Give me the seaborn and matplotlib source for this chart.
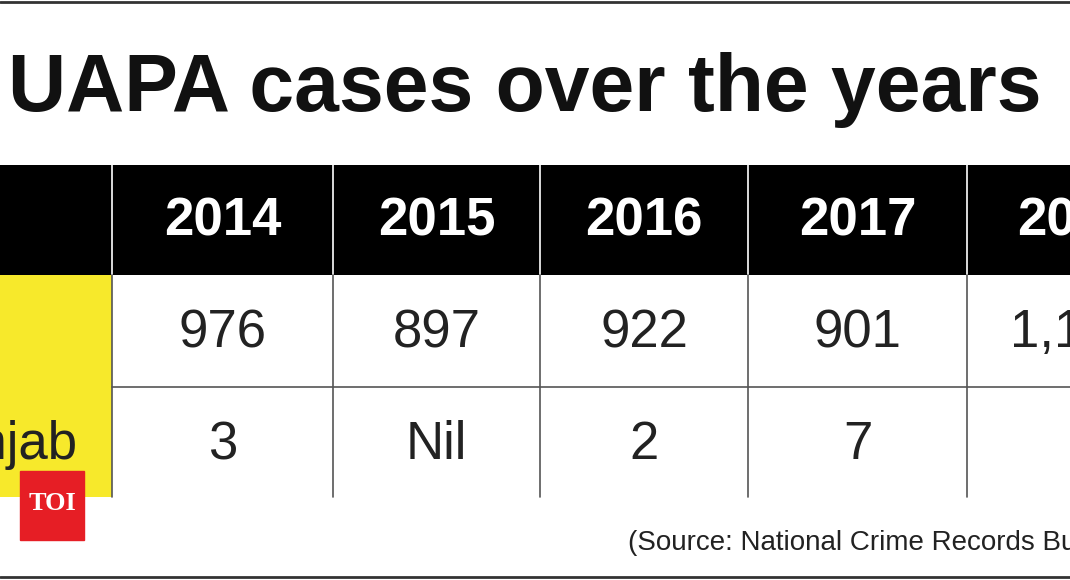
import matplotlib
matplotlib.use("Agg")
import matplotlib.pyplot as plt
import seaborn as sns
import numpy as np
from matplotlib.colors import ListedColormap

title = "UAPA cases over the years"
years = ["", "2014", "2015", "2016", "2017", "2018"]
row_labels = ["India", "Punjab"]
india = ["976", "897", "922", "901", "1,182"]
punjab = ["3", "Nil", "2", "7", ""]
source = "(Source: National Crime Records Bureau)"

sns.set_theme(style="white")
plt.rcParams['font.family'] = ['Liberation Sans', 'DejaVu Sans']

fig = plt.figure(figsize=(10.7, 5.8), dpi=100)
ax = fig.add_axes([0, 0, 1, 1])
ax.set_xlim(0, 1070); ax.set_ylim(580, 0); ax.axis("off")

xe = np.array([0, 112, 333, 540, 748, 967, 1185])
ye = np.array([165, 275, 387, 497])
codes = np.array([[0, 0, 0, 0, 0, 0], [1, 2, 2, 2, 2, 2], [1, 2, 2, 2, 2, 2]])
cmap = ListedColormap(["#000000", "#f7e92b", "#ffffff"])
ax.pcolormesh(xe, ye, codes, cmap=cmap, vmin=-0.5, vmax=2.5)

for x in xe[1:-1]:
    ax.plot([x, x], [165, 275], color="white", lw=1.2)
    ax.plot([x, x], [275, 497], color="#555555", lw=1.2)
ax.plot([112, 1070], [387, 387], color="#555555", lw=1.2)
ax.plot([0, 1070], [2, 2], color="#333333", lw=2)
ax.plot([0, 1070], [577, 577], color="#333333", lw=2)

ax.text(8, 90, title, fontsize=58, fontweight="bold", va="center", ha="left", color="#111111")
cx = (xe[:-1] + xe[1:]) / 2
for i, y in enumerate(years):
    ax.text(cx[i], 222, y, fontsize=38, fontweight="bold", color="white", ha="center", va="center", clip_on=True)
for i, v in enumerate(india):
    ax.text(cx[i + 1], 333, v, fontsize=38, color="#222222", ha="center", va="center", clip_on=True)
for i, v in enumerate(punjab):
    ax.text(cx[i + 1], 445, v, fontsize=38, color="#222222", ha="center", va="center", clip_on=True)
ax.text(-5, 333, row_labels[0], fontsize=38, color="#222222", ha="right", va="center", clip_on=True)
ax.text(78, 445, row_labels[1], fontsize=38, color="#222222", ha="right", va="center", clip_on=True)

ax.add_patch(plt.Rectangle((20, 471), 64, 69, color="#e61e25", zorder=5))
ax.text(52, 503, "TOI", fontsize=19, fontweight="bold", color="white", family="Liberation Serif",
        ha="center", va="center", zorder=6)
ax.text(628, 543, source, fontsize=20, color="#222222", ha="left", va="center", clip_on=True)

fig.savefig("out.png", dpi=100)
